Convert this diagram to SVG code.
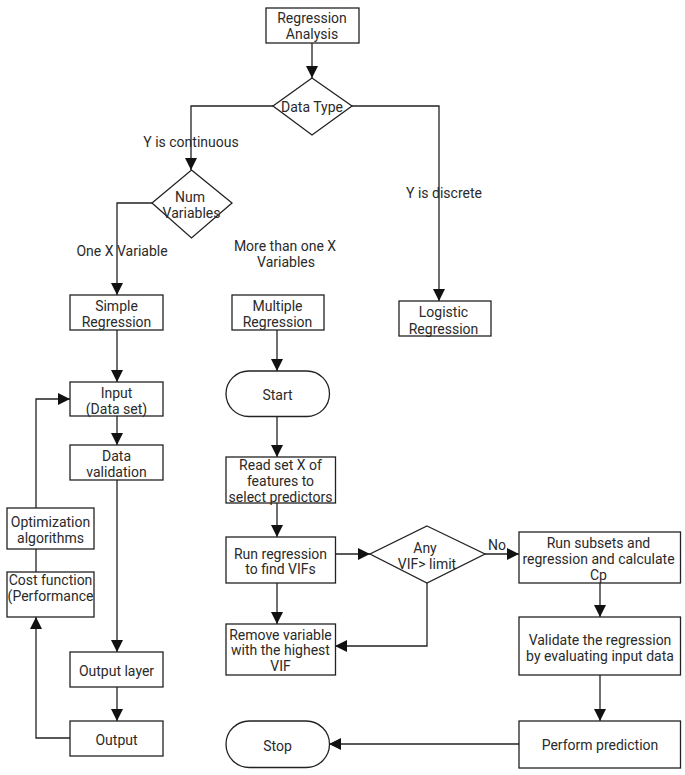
<svg xmlns="http://www.w3.org/2000/svg" width="685" height="775" viewBox="0 0 685 775">
<style>
.n{fill:#fff;stroke:#222;stroke-width:1.3}
.c{fill:none;stroke:#222;stroke-width:1.3}
text{font-family:Roboto,"Liberation Sans",sans-serif;font-size:14px;fill:#2a2a2a;text-anchor:middle}
</style>
<defs>
<marker id="ah" viewBox="0 0 12 12" refX="12" refY="6" markerWidth="12" markerHeight="12" markerUnits="userSpaceOnUse" orient="auto">
<path d="M0,0 L12,6 L0,12 z" fill="#111"/>
</marker>
</defs>
<rect width="685" height="775" fill="#fff"/>
<g id="connectors">
<path class="c" d="M312,43 V78" marker-end="url(#ah)"/>
<path class="c" d="M273,106 H191 V170" marker-end="url(#ah)"/>
<path class="c" d="M352,106 H439 V301" marker-end="url(#ah)"/>
<path class="c" d="M152,203 H117 V295" marker-end="url(#ah)"/>
<path class="c" d="M117,330 V382" marker-end="url(#ah)"/>
<path class="c" d="M117,416 V445" marker-end="url(#ah)"/>
<path class="c" d="M117,480 V652" marker-end="url(#ah)"/>
<path class="c" d="M117,687 V721" marker-end="url(#ah)"/>
<path class="c" d="M70,738 H36 V617" marker-end="url(#ah)"/>
<path class="c" d="M36,572 V549"/>
<path class="c" d="M36,508 V399 H70" marker-end="url(#ah)"/>
<path class="c" d="M277,330 V371" marker-end="url(#ah)"/>
<path class="c" d="M277,416 V457" marker-end="url(#ah)"/>
<path class="c" d="M277,503 V537" marker-end="url(#ah)"/>
<path class="c" d="M277,583 V624" marker-end="url(#ah)"/>
<path class="c" d="M335,554 H370" marker-end="url(#ah)"/>
<path class="c" d="M485,554 H519" marker-end="url(#ah)"/>
<path class="c" d="M427,583 V646 H335" marker-end="url(#ah)"/>
<path class="c" d="M600,583 V617" marker-end="url(#ah)"/>
<path class="c" d="M600,675 V721" marker-end="url(#ah)"/>
<path class="c" d="M519,744 H329" marker-end="url(#ah)"/>
</g>
<g id="labels">
<text x="191" y="146.5">Y is continuous</text>
<text x="444" y="198">Y is discrete</text>
<text x="122" y="255.5">One X Variable</text>
<text x="285" y="250.5">More than one X</text>
<text x="286" y="266.5">Variables</text>
<text x="497" y="550">No</text>
</g>
<g id="regression-analysis">
<rect class="n" x="266" y="8" width="93" height="35"/>
<text x="312" y="23">Regression</text>
<text x="312" y="39">Analysis</text>
</g>
<g id="data-type">
<polygon class="n" points="312,78 352,106 312,135 273,106"/>
<text x="312" y="112">Data Type</text>
</g>
<g id="num-variables">
<polygon class="n" points="191.5,170 232,203 191.5,238 152,203"/>
<text x="190" y="201.5">Num</text>
<text x="191.5" y="217.5">Variables</text>
</g>
<g id="simple-regression">
<rect class="n" x="70" y="295" width="93" height="35"/>
<text x="116.5" y="310.5">Simple</text>
<text x="116.5" y="327">Regression</text>
</g>
<g id="multiple-regression">
<rect class="n" x="232" y="295" width="92" height="35"/>
<text x="277.5" y="310.5">Multiple</text>
<text x="277.5" y="327">Regression</text>
</g>
<g id="logistic-regression">
<rect class="n" x="399" y="301" width="92" height="35"/>
<text x="443.5" y="316.5">Logistic</text>
<text x="443.5" y="333.5">Regression</text>
</g>
<g id="input">
<rect class="n" x="70" y="382" width="93" height="34"/>
<text x="116.5" y="397.5">Input</text>
<text x="116.5" y="413.5">(Data set)</text>
</g>
<g id="data-validation">
<rect class="n" x="70" y="445" width="93" height="35"/>
<text x="116.5" y="460.5">Data</text>
<text x="116.5" y="476.5">validation</text>
</g>
<g id="optimization">
<rect class="n" x="7" y="508" width="87" height="41"/>
<text x="50.5" y="527">Optimization</text>
<text x="50.5" y="542.5">algorithms</text>
</g>
<g id="cost-function">
<rect class="n" x="7" y="572" width="87" height="45"/>
<text x="50.5" y="585">Cost function</text>
<text x="50.5" y="600.5">(Performance</text>
</g>
<g id="output-layer">
<rect class="n" x="70" y="652" width="93" height="35"/>
<text x="116.5" y="675.5">Output layer</text>
</g>
<g id="output">
<rect class="n" x="70" y="721" width="93" height="35"/>
<text x="116.5" y="744.5">Output</text>
</g>
<g id="start">
<rect class="n" x="226" y="371" width="103.5" height="45.5" rx="22.75"/>
<text x="277.5" y="399.5">Start</text>
</g>
<g id="read-set">
<rect class="n" x="226" y="457" width="109.5" height="46"/>
<text x="280.5" y="470">Read set X of</text>
<text x="280.5" y="485.5">features to</text>
<text x="280.5" y="501.5">select predictors</text>
</g>
<g id="run-regression">
<rect class="n" x="226" y="537" width="109.5" height="46"/>
<text x="280.5" y="558.5">Run regression</text>
<text x="280.5" y="574">to find VIFs</text>
</g>
<g id="remove-variable">
<rect class="n" x="226" y="624" width="109.5" height="51"/>
<text x="280.5" y="639.5">Remove variable</text>
<text x="280.5" y="655">with the highest</text>
<text x="280.5" y="671">VIF</text>
</g>
<g id="any-vif">
<polygon class="n" points="427,526 485,554 427,583 370,554"/>
<text x="425" y="552.5">Any</text>
<text x="427" y="568.5">VIF&gt; limit</text>
</g>
<g id="run-subsets">
<rect class="n" x="519" y="532" width="161.5" height="51"/>
<text x="598.5" y="547.5">Run subsets and</text>
<text x="598.5" y="563.5">regression and calculate</text>
<text x="598.5" y="580">Cp</text>
</g>
<g id="validate">
<rect class="n" x="519" y="617" width="161.5" height="58"/>
<text x="600" y="645">Validate the regression</text>
<text x="600" y="660.5">by evaluating input data</text>
</g>
<g id="perform-prediction">
<rect class="n" x="519" y="721" width="161.5" height="47"/>
<text x="600" y="750">Perform prediction</text>
</g>
<g id="stop">
<rect class="n" x="226" y="721" width="103.5" height="46.5" rx="23.25"/>
<text x="277.5" y="750.5">Stop</text>
</g>
</svg>
